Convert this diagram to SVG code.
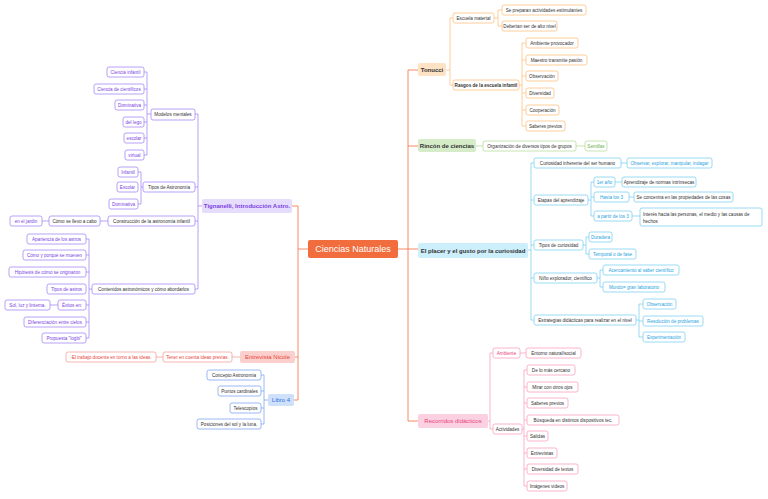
<svg xmlns="http://www.w3.org/2000/svg" width="768" height="499" viewBox="0 0 768 499">
<style>
text{font-family:"Liberation Sans",Arial,sans-serif;font-size:4.6px;text-anchor:middle;dominant-baseline:central}
rect{rx:2;stroke-width:0.8}
.c path{fill:none;stroke-width:0.8;stroke-linejoin:round}
.p rect{fill:#fff;stroke:#a58bf5}.p text{fill:#7b3fe4}
.o rect{fill:#fff;stroke:#fbc27f}
.g rect{fill:#fff;stroke:#b7dc9c}
.b rect{fill:#fff;stroke:#7fd0f0}.b text{fill:#29a3e0}
.k rect{fill:#fff;stroke:#f7a1bf}.k text{fill:#e8457e}
.r rect{fill:#fff;stroke:#f4a29b}.r text{fill:#e8453c}
.l rect{fill:#fff;stroke:#7ea6f0}
.d text{fill:#333}
.h text{font-size:6px;font-weight:bold}
</style>
<rect width="768" height="499" fill="#fff" style="stroke:none"/>
<g class="c">
<path stroke="#f26d3d" d="M398,249 H408 V70 H418 M408,146 H418 M408,249 H418 M408,249 V421 H418 M308,249 H298 V206 H292 M298,249 V357 H295 M298,357 V400 H294"/>
<path stroke="#a58bf5" d="M202,206 H198 V114 H195 M198,187 H195 M198,206 V289 H195 M198,221 H195 M151,114 H147 V72 H144 M147,89 H144 M147,105 H144 M147,122 H144 M147,114 V155 H144 M147,138 H144 M143,187 H141 V172 H138 M141,187 V204 H138 M108,221 H100 M49,221 H42 M92,289 H89 V239 H86 M89,255 H86 M89,272 H86 M89,289 V338 H86 M89,305 H86 M89,322 H86 M58,305 H50"/>
<path stroke="#f4a29b" d="M240,357 H232 M163,357 H156"/>
<path stroke="#7ea6f0" d="M268,400 H264 V375 H261 M264,391 H261 M264,400 V424 H261 M264,408 H261"/>
<path stroke="#fbc27f" d="M446,70 H450 V18 H453 M450,70 V85 H453 M494,18 H498 V10 H502 M498,18 V26 H502 M519,85 H522 V43 H526 M522,60 H526 M522,76 H526 M522,85 V126 H526 M522,93 H526 M522,110 H526"/>
<path stroke="#b7dc9c" d="M476,146 H483 M576,146 H585"/>
<path stroke="#7fd0f0" d="M528,250 H531 V163 H534 M531,200 H534 M531,245 H534 M531,250 V320 H534 M531,278 H534 M621,163 H627 M588,200 H591 V182 H594 M591,197 H594 M591,200 V216 H594 M615,182 H622 M629,197 H634 M632,216 H640 M583,245 H586 V237 H589 M586,245 V254 H589 M597,278 H600 V270 H603 M600,278 V287 H603 M636,320 H639 V304 H643 M639,321 H643 M639,320 V337 H643"/>
<path stroke="#f7a1bf" d="M488,421 H490 V353 H493 M490,421 V429 H493 M520,353 H526 M522,429 H524 V370 H527 M524,387 H527 M524,403 H527 M524,420 H527 M524,429 V486 H527 M524,436 H527 M524,453 H527 M524,469 H527"/>
</g>
<g id="center"><rect x="308" y="240" width="90" height="18" fill="#f26d3d" style="stroke:none"/><text x="353" y="249" fill="#fff" style="font-size:9px">Ciencias Naturales</text></g>
<g id="tignanelli" class="p h"><rect x="202" y="199" width="90" height="14" style="fill:#e6dcfb;stroke:none"/><text x="247" y="206">Tignanelli, Introducción Astro.</text></g>
<g id="modelos" class="p d"><rect x="151" y="109" width="44" height="11"/><text x="173" y="114.5">Modelos mentales</text></g>
<g id="m1" class="p"><rect x="107" y="67" width="37" height="10"/><text x="125.5" y="72">Ciencia infantil</text></g>
<g id="m2" class="p"><rect x="94" y="84" width="50" height="10"/><text x="119" y="89">Ciencia de científicos</text></g>
<g id="m3" class="p"><rect x="115" y="100" width="29" height="10"/><text x="129.5" y="105">Dominativa</text></g>
<g id="m4" class="p"><rect x="123" y="117" width="21" height="10"/><text x="133.5" y="122">del lego</text></g>
<g id="m5" class="p"><rect x="124" y="133" width="20" height="10"/><text x="134" y="138">escolar</text></g>
<g id="m6" class="p"><rect x="125" y="150" width="19" height="10"/><text x="134.5" y="155">virtual</text></g>
<g id="tipos" class="p d"><rect x="143" y="182" width="52" height="10"/><text x="169" y="187">Tipos de Astronomía</text></g>
<g id="t1" class="p"><rect x="118" y="167" width="20" height="10"/><text x="128" y="172">Infantil</text></g>
<g id="t2" class="p"><rect x="117" y="182" width="21" height="10"/><text x="127.5" y="187">Escolar</text></g>
<g id="t3" class="p"><rect x="109" y="199" width="29" height="10"/><text x="123.5" y="204">Dominativa</text></g>
<g id="construccion" class="p d"><rect x="108" y="216" width="87" height="10"/><text x="151.5" y="221">Construcción de la astronomía infantil</text></g>
<g id="como" class="p d"><rect x="49" y="216" width="51" height="10"/><text x="74.5" y="221">Cómo se llevo a cabo</text></g>
<g id="jardin" class="p"><rect x="10" y="216" width="32" height="10"/><text x="26" y="221">en el jardín</text></g>
<g id="contenidos" class="p d"><rect x="92" y="284" width="103" height="10"/><text x="143.5" y="289">Contenidos astronómicos y cómo abordarlos</text></g>
<g id="c1" class="p"><rect x="27" y="234" width="59" height="10"/><text x="56.5" y="239">Apariencia de los astros</text></g>
<g id="c2" class="p"><rect x="23" y="250" width="63" height="10"/><text x="54.5" y="255">Cómo y porqué se mueven</text></g>
<g id="c3" class="p"><rect x="9" y="267" width="77" height="10"/><text x="47.5" y="272">Hipótesis de cómo se originaron</text></g>
<g id="c4" class="p"><rect x="47" y="284" width="39" height="10"/><text x="66.5" y="289">Tipos de astros</text></g>
<g id="c5" class="p"><rect x="58" y="300" width="28" height="10"/><text x="72" y="305">Éxitos en:</text></g>
<g id="c5a" class="p"><rect x="5" y="300" width="45" height="10"/><text x="27.5" y="305">Sol, luz y linterna.</text></g>
<g id="c6" class="p"><rect x="24" y="317" width="62" height="10"/><text x="55" y="322">Diferenciación entre cielos</text></g>
<g id="c7" class="p"><rect x="42" y="333" width="44" height="10"/><text x="64" y="338">Propuesta "logbi"</text></g>
<g id="entrevista" class="r h"><rect x="240" y="351" width="55" height="12" style="fill:#fbd0cc;stroke:none"/><text x="267.5" y="357" style="font-weight:normal">Entrevista Nicole</text></g>
<g id="e1" class="r"><rect x="163" y="352" width="69" height="10"/><text x="197.5" y="357">Tener en cuenta ideas previas.</text></g>
<g id="e2" class="r"><rect x="66" y="352" width="90" height="10"/><text x="111" y="357">-El trabajo docente en torno a las ideas.</text></g>
<g id="libro" class="l h"><rect x="268" y="394" width="26" height="12" style="fill:#cfe0fb;stroke:none"/><text x="281" y="400" fill="#2f6fe0" style="font-weight:normal">Libro 4</text></g>
<g id="l1" class="l d"><rect x="207" y="370" width="54" height="10"/><text x="234" y="375">Concepto Astronomía</text></g>
<g id="l2" class="l d"><rect x="218" y="386" width="43" height="10"/><text x="239.5" y="391">Puntos cardinales</text></g>
<g id="l3" class="l d"><rect x="230" y="403" width="31" height="10"/><text x="245.5" y="408">Telescopios</text></g>
<g id="l4" class="l d"><rect x="197" y="419" width="64" height="10"/><text x="229" y="424">Posiciones del sol y la luna.</text></g>
<g id="tonucci" class="o d h"><rect x="418" y="63" width="28" height="13" style="fill:#fde2c4;stroke:none"/><text x="432" y="69.5">Tonucci</text></g>
<g id="escuela" class="o d"><rect x="453" y="13" width="41" height="10"/><text x="473.5" y="18">Escuela material</text></g>
<g id="es1" class="o d"><rect x="502" y="5" width="84" height="10"/><text x="544" y="10">Se preparan actividades estimulantes</text></g>
<g id="es2" class="o d"><rect x="502" y="21" width="55" height="10"/><text x="529.5" y="26">Deberían ser de alto nivel</text></g>
<g id="rasgos" class="o d"><rect x="453" y="80" width="66" height="10"/><text x="486" y="85" font-weight="bold">Rasgos de la escuela infantil</text></g>
<g id="r1" class="o d"><rect x="526" y="38" width="52" height="10"/><text x="552" y="43">Ambiente provocador</text></g>
<g id="r2" class="o d"><rect x="526" y="55" width="61" height="10"/><text x="556.5" y="60">Maestro transmite pasión</text></g>
<g id="r3" class="o d"><rect x="526" y="71" width="32" height="10"/><text x="542" y="76">Observación</text></g>
<g id="r4" class="o d"><rect x="526" y="88" width="28" height="10"/><text x="540" y="93">Diversidad</text></g>
<g id="r5" class="o d"><rect x="526" y="105" width="33" height="10"/><text x="542.5" y="110">Cooperación</text></g>
<g id="r6" class="o d"><rect x="526" y="121" width="39" height="10"/><text x="545.5" y="126">Saberes previos</text></g>
<g id="rincon" class="g d h"><rect x="418" y="139" width="58" height="13" style="fill:#d6ecc8;stroke:none"/><text x="447" y="145.5">Rincón de ciencias</text></g>
<g id="org" class="g d"><rect x="483" y="141" width="93" height="10"/><text x="529.5" y="146">Organización de diversos tipos de grupos</text></g>
<g id="semillas" class="g"><rect x="585" y="141" width="22" height="10"/><text x="596" y="146" fill="#6ab04c">Semillas</text></g>
<g id="placer" class="b d h"><rect x="418" y="243" width="110" height="15" style="fill:#cdeefb;stroke:none"/><text x="473" y="250.5">El placer y el gusto por la curiosidad</text></g>
<g id="p1" class="b d"><rect x="534" y="158" width="87" height="10"/><text x="577.5" y="163">Curiosidad inherente del ser humano</text></g>
<g id="p1a" class="b"><rect x="627" y="158" width="85" height="10"/><text x="669.5" y="163">Observar, explorar, manipular, indagar</text></g>
<g id="p2" class="b d"><rect x="534" y="195" width="54" height="10"/><text x="561" y="200">Etapas del aprendizaje</text></g>
<g id="p2a" class="b"><rect x="594" y="177" width="21" height="10"/><text x="604.5" y="182">1er año</text></g>
<g id="p2a1" class="b d"><rect x="622" y="177" width="74" height="10"/><text x="659" y="182">Aprendizaje de normas intrínsecas</text></g>
<g id="p2b" class="b"><rect x="594" y="192" width="35" height="10"/><text x="611.5" y="197">Hasta los 3</text></g>
<g id="p2b1" class="b d"><rect x="634" y="192" width="99" height="10"/><text x="683.5" y="197">Se concentra en las propiedades de las cosas</text></g>
<g id="p2c" class="b"><rect x="594" y="211" width="38" height="10"/><text x="613" y="216">a partir de los 3</text></g>
<g id="p2c1" class="b d"><rect x="640" y="208" width="122" height="18"/><text x="643" y="214" style="text-anchor:start">Interés hacia las personas, el medio y las causas de</text><text x="643" y="221" style="text-anchor:start">hechos</text></g>
<g id="p3" class="b d"><rect x="534" y="240" width="49" height="10"/><text x="558.5" y="245">Tipos de curiosidad</text></g>
<g id="p3a" class="b"><rect x="589" y="232" width="23" height="10"/><text x="600.5" y="237">Duradera</text></g>
<g id="p3b" class="b"><rect x="589" y="249" width="47" height="10"/><text x="612.5" y="254">Temporal o de fase</text></g>
<g id="p4" class="b d"><rect x="534" y="273" width="63" height="10"/><text x="565.5" y="278">Niño explorador, científico</text></g>
<g id="p4a" class="b"><rect x="603" y="265" width="76" height="10"/><text x="641" y="270">Acercamiento al saber científico</text></g>
<g id="p4b" class="b"><rect x="603" y="282" width="62" height="10"/><text x="634" y="287">Mundo= gran laboratorio</text></g>
<g id="p5" class="b d"><rect x="534" y="315" width="102" height="10"/><text x="585" y="320">Estrategias didácticas para realizar en el nivel</text></g>
<g id="p5a" class="b"><rect x="643" y="299" width="33" height="10"/><text x="659.5" y="304">Observación</text></g>
<g id="p5b" class="b"><rect x="643" y="316" width="60" height="10"/><text x="673" y="321">Resolución de problemas</text></g>
<g id="p5c" class="b"><rect x="643" y="332" width="42" height="10"/><text x="664" y="337">Experimentación</text></g>
<g id="recorridos" class="k h"><rect x="418" y="414" width="70" height="14" style="fill:#fbd0e0;stroke:none"/><text x="453" y="421" style="font-weight:normal">Recorridos didácticos</text></g>
<g id="ambiente" class="k"><rect x="493" y="348" width="27" height="10"/><text x="506.5" y="353">Ambiente</text></g>
<g id="amb1" class="k d"><rect x="526" y="348" width="55" height="10"/><text x="553.5" y="353">Entorno natural/social</text></g>
<g id="actividades" class="k d"><rect x="493" y="424" width="29" height="10"/><text x="507.5" y="429">Actividades</text></g>
<g id="a1" class="k d"><rect x="527" y="365" width="48" height="10"/><text x="551" y="370">De lo más cercano</text></g>
<g id="a2" class="k d"><rect x="527" y="382" width="51" height="10"/><text x="552.5" y="387">Mirar con otros ojos</text></g>
<g id="a3" class="k d"><rect x="527" y="398" width="41" height="10"/><text x="547.5" y="403">Saberes previos</text></g>
<g id="a4" class="k d"><rect x="527" y="415" width="92" height="10"/><text x="573" y="420">Búsqueda en distintos dispositivos tec.</text></g>
<g id="a5" class="k d"><rect x="527" y="431" width="21" height="10"/><text x="537.5" y="436">Salidas</text></g>
<g id="a6" class="k d"><rect x="527" y="448" width="30" height="10"/><text x="542" y="453">Entrevistas</text></g>
<g id="a7" class="k d"><rect x="527" y="464" width="51" height="10"/><text x="552.5" y="469">Diversidad de textos</text></g>
<g id="a8" class="k d"><rect x="527" y="481" width="40" height="10"/><text x="547" y="486">Imágenes videos</text></g>
</svg>
